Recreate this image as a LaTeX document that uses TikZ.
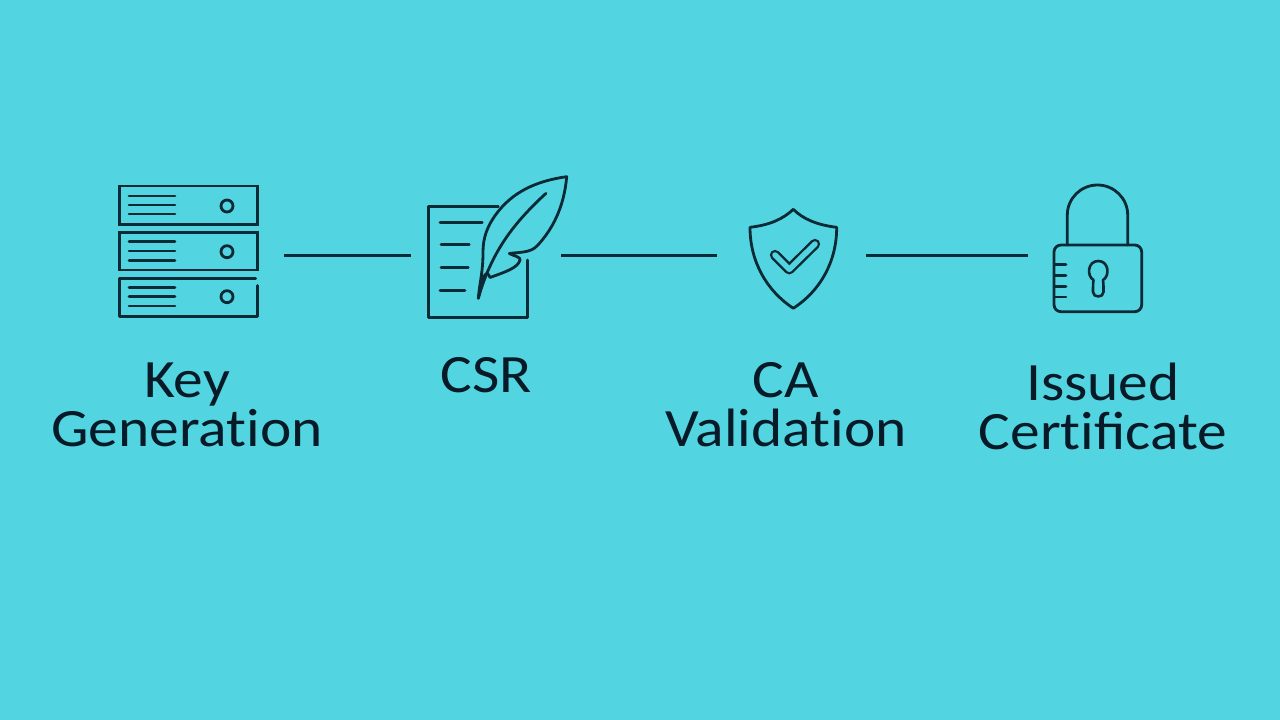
\documentclass[tikz,border=0pt]{standalone}
\usepackage{fontspec}
\setmainfont[FakeStretch=1.1]{Carlito}
\definecolor{bg}{HTML}{52D5E0}
\definecolor{ink}{HTML}{0A2A36}
\definecolor{txt}{HTML}{061A28}
\tikzset{
  icon/.style={draw=ink,line width=2.8pt,line join=round,line cap=round},
  thin icon/.style={icon,line width=2.6pt},
  link/.style={draw=ink,line width=2.4pt},
  label/.style={text=txt,font=\fontsize{54}{49}\selectfont,align=center,inner sep=0pt},
}
\begin{document}
\begin{tikzpicture}[x=1pt,y=-1pt]
\useasboundingbox (0,0) rectangle (1280,720);
\fill[bg] (0,0) rectangle (1280,720);
% server
\foreach \t/\b/\a/\e/\f/\c in {186/224.3/196/205/214/206,232.7/270/241.7/251/260.3/251.7}{
  \draw[icon,line cap=butt,line join=miter] (119.3,\t) rectangle (257.3,\b);
  \draw[thin icon] (129,\a)--(175,\a) (129,\e)--(175,\e) (129,\f)--(175,\f);
  \draw[icon] (227,\c) circle (6);
}
\draw[icon] (255.7,278.3)--(119.3,278.3)--(119.3,316.7)--(257.3,316.7)--(257.3,285.5);
\draw[thin icon] (129,287.3)--(175,287.3) (129,296.7)--(175,296.7) (129,306)--(175,306);
\draw[icon] (227,296.7) circle (6);
% document
\draw[icon] (498.3,206.7)--(428.3,206.7)--(428.3,317.7)--(527.7,317.7)--(527.7,260);
\draw[thin icon] (440,222.3)--(482.3,222.3) (441,244.7)--(469.3,244.7) (441,267.3)--(468.3,267.3) (440,290.7)--(465,290.7);
% feather
\draw[icon] (566.7,176.7)
  .. controls (535,181) and (512,193) .. (497,213)
  .. controls (487,226) and (483,238) .. (483,252)
  .. controls (483,272) and (480,280) .. (478.3,298.3)
  .. controls (481,285) and (485,265) .. (490,277.5)
  .. controls (505,272) and (518,268) .. (520,260)
  .. controls (521,257) and (514,256) .. (509.3,253.5)
  .. controls (520,252) and (530,253) .. (537,246)
  .. controls (552,230) and (564,208) .. (566.7,176.7) -- cycle;
\draw[icon] (546,193.3) .. controls (515,222) and (492,250) .. (478.3,298.3);
% shield
\draw[icon] (793.3,209.3)
  .. controls (783,219) and (770,225) .. (750,227.3)
  .. controls (750,262) and (767,291) .. (793.3,308.3)
  .. controls (820,291) and (836.7,262) .. (836.7,227.3)
  .. controls (817,225) and (803,219) .. (793.3,209.3) -- cycle;
\draw[draw=ink,line width=2.4pt,double=bg,double distance=5.5pt,line cap=round,line join=round] (775,255)--(789.3,269.3)--(815,244);
% lock
\draw[icon] (1067.3,245)--(1067.3,215) arc[start angle=180,end angle=360,x radius=30.2,y radius=30]--(1127.7,245);
\draw[icon,rounded corners=7pt] (1054,245) rectangle (1141.7,311.7);
\draw[thin icon] (1055,264.3)--(1066,264.3) (1055,275.3)--(1066,275.3) (1055,286.7)--(1066,286.7) (1055,297)--(1066,297);
\draw[thin icon] (1093.5,280) .. controls (1093,283) and (1093,288) .. (1093,292)
  .. controls (1093,298) and (1103.5,298) .. (1103.5,292)
  .. controls (1103.5,288) and (1103.5,283) .. (1103,280)
  .. controls (1110,276) and (1109,261) .. (1098.3,261)
  .. controls (1087.5,261) and (1086.5,276) .. (1093.5,280) -- cycle;
% connectors
\coordinate (a1) at (284,255.5); \coordinate (a2) at (411,255.5);
\coordinate (b1) at (561,255.5); \coordinate (b2) at (717,255.5);
\coordinate (c1) at (866,255.5); \coordinate (c2) at (1028,255.5);
\draw[link] (a1)--(a2);
\draw[link] (b1)--(b2);
\draw[link] (c1)--(c2);
% labels
\node[label] (l1) at (187,405) {Key\\Generat\kern0pt ion};
\node[label] (l2) at (486,375) {CSR};
\node[label] (l3) at (786,405) {CA\\Validat\kern0pt ion};
\node[label] (l4) at (1103,406) {Issued\\Cert\kern0pt ificate};
\end{tikzpicture}
\end{document}
